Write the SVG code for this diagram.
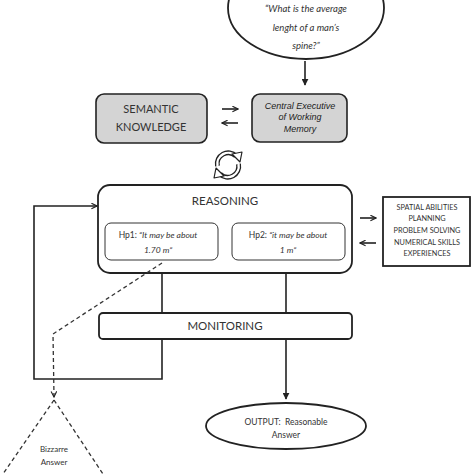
<svg xmlns="http://www.w3.org/2000/svg" width="474" height="474" viewBox="0 0 474 474">
<defs>
<style>
.box{fill:#fff;stroke:#222;stroke-width:1.8}
.gray{fill:#d4d4d4;stroke:#222;stroke-width:1.6}
.thin{fill:#fff;stroke:#333;stroke-width:1}
.ln{fill:none;stroke:#222;stroke-width:1.6}
.dash{fill:none;stroke:#333;stroke-width:1.3;stroke-dasharray:4,3}
.t{font-family:Lato,"Open Sans",sans-serif;fill:#333;text-anchor:middle}
.ti{font-family:Lato,"Open Sans",sans-serif;font-style:italic;fill:#333;text-anchor:middle}
.ta{font-family:"Liberation Sans",Arial,sans-serif;font-style:italic;fill:#222;text-anchor:middle}
</style>
<marker id="ah" viewBox="0 0 10 10" refX="9" refY="5" markerWidth="7" markerHeight="7" markerUnits="userSpaceOnUse" orient="auto">
<path d="M0,0 L10,5 L0,10 Z" fill="#222"/>
</marker>
<marker id="ch" viewBox="0 0 10 10" refX="9" refY="5" markerWidth="7" markerHeight="7" markerUnits="userSpaceOnUse" orient="auto">
<path d="M1,1 L9,5 L1,9" fill="none" stroke="#222" stroke-width="1.6"/>
</marker>
</defs>
<rect width="474" height="474" fill="#fff"/>

<g id="question">
<ellipse cx="306" cy="8" rx="78" ry="51" class="box"/>
<text class="ti" font-size="9.5" x="306" y="12">“What is the average</text>
<text class="ti" font-size="9.5" x="306" y="31">lenght of a man’s</text>
<text class="ti" font-size="9.5" x="306" y="49">spine?”</text>
</g>

<g id="semantic">
<rect x="96" y="94" width="111" height="49" rx="8" class="gray"/>
<text class="t" font-size="11" x="151" y="113">SEMANTIC</text>
<text class="t" font-size="11" x="151" y="131">KNOWLEDGE</text>
</g>

<g id="central">
<rect x="252" y="94" width="95" height="48" rx="8" class="gray"/>
<text class="ta" font-size="9" x="300" y="109">Central Executive</text>
<text class="ta" font-size="9" x="300" y="120">of Working</text>
<text class="ta" font-size="9" x="300" y="132">Memory</text>
</g>

<g id="cycle">
<path d="M217.5,166 A11,11 0 0 1 236,156" fill="none" stroke="#222" stroke-width="5"/>
<path d="M217.5,166 A11,11 0 0 1 236,156" fill="none" stroke="#fff" stroke-width="2.4"/>
<path d="M232,154 L242,152 L240,162 Z" fill="#fff" stroke="#222" stroke-width="1.2" stroke-linejoin="round"/>
<path d="M238.5,164 A11,11 0 0 1 220,174" fill="none" stroke="#222" stroke-width="5"/>
<path d="M238.5,164 A11,11 0 0 1 220,174" fill="none" stroke="#fff" stroke-width="2.4"/>
<path d="M224,176 L214,178 L216,168 Z" fill="#fff" stroke="#222" stroke-width="1.2" stroke-linejoin="round"/>
</g>

<g id="reasoning">
<rect x="98" y="185" width="254" height="88" rx="12" class="box" stroke-width="2"/>
<text class="t" font-size="11.5" x="225" y="205">REASONING</text>
</g>

<g id="hp1">
<rect x="105" y="223" width="113" height="37" rx="6" class="thin"/>
<text class="t" font-size="8.5" x="158" y="238">Hp1: <tspan font-style="italic">“It may be about</tspan></text>
<text class="ti" font-size="8.5" x="158" y="253">1.70 m”</text>
</g>

<g id="hp2">
<rect x="232" y="223" width="113" height="37" rx="6" class="thin"/>
<text class="t" font-size="8.5" x="288" y="238">Hp2: <tspan font-style="italic">“it may be about</tspan></text>
<text class="ti" font-size="8.5" x="288" y="253">1 m”</text>
</g>

<g id="abilities">
<rect x="383" y="197" width="87" height="69" class="box" stroke-width="1.6"/>
<text class="t" font-size="7.3" x="427" y="210">SPATIAL ABILITIES</text>
<text class="t" font-size="7.3" x="427" y="221">PLANNING</text>
<text class="t" font-size="7.3" x="427" y="233">PROBLEM SOLVING</text>
<text class="t" font-size="7.3" x="427" y="245">NUMERICAL SKILLS</text>
<text class="t" font-size="7.3" x="427" y="256">EXPERIENCES</text>
</g>

<g id="monitoring">
<rect x="99" y="313" width="253" height="26" rx="4" class="box"/>
<text class="t" font-size="11.5" x="225" y="330">MONITORING</text>
</g>

<g id="output">
<ellipse cx="286" cy="426" rx="80" ry="23" class="box"/>
<text class="t" font-size="8.5" x="286" y="425">OUTPUT:&#160; Reasonable</text>
<text class="t" font-size="8.5" x="286" y="438">Answer</text>
</g>

<g id="bizzarre">
<path d="M54,400 L3,474 M54,400 L103,474" class="dash" stroke-width="1.5"/>
<text class="t" font-size="8" x="54" y="452">Bizzarre</text>
<text class="t" font-size="8" x="54" y="465">Answer</text>
</g>

<g id="connectors">
<line x1="305" y1="61" x2="305" y2="85" class="ln" marker-end="url(#ah)"/>
<line x1="222" y1="109" x2="238" y2="109" class="ln" stroke-width="1.3" marker-end="url(#ch)"/>
<line x1="238" y1="123" x2="222" y2="123" class="ln" stroke-width="1.3" marker-end="url(#ch)"/>
<line x1="360" y1="218" x2="376" y2="218" class="ln" stroke-width="1.3" marker-end="url(#ch)"/>
<line x1="376" y1="243" x2="360" y2="243" class="ln" stroke-width="1.3" marker-end="url(#ch)"/>
<line x1="162" y1="273" x2="162" y2="313" class="ln"/>
<line x1="286" y1="273" x2="286" y2="313" class="ln"/>
<polyline points="162,339 162,379 34,379 34,206 97,206" class="ln" marker-end="url(#ch)"/>
<line x1="286" y1="339" x2="286" y2="399" class="ln" marker-end="url(#ah)"/>
<polyline points="162,263 53,334 54,397" class="dash" marker-end="url(#ch)"/>
</g>
</svg>
